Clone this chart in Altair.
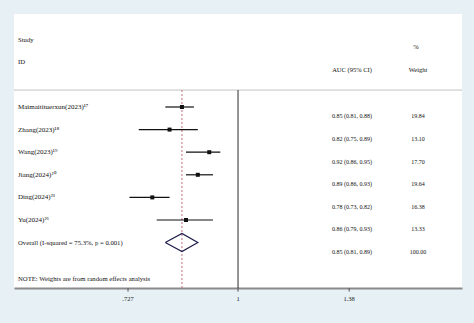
import altair as alt
import pandas as pd

# ---- data ----
studies = ["Maimaitituerxun(2023)¹⁷", "Zhang(2023)¹⁸", "Wang(2023)¹⁹",
           "Jiang(2024)²⁰", "Ding(2024)²³", "Yu(2024)²⁶"]
auc = [0.85, 0.82, 0.92, 0.89, 0.78, 0.86]
lower = [0.81, 0.75, 0.86, 0.86, 0.73, 0.79]
upper = [0.88, 0.89, 0.95, 0.93, 0.82, 0.93]
weights = [19.84, 13.10, 17.70, 19.64, 16.38, 13.33]

overall_label = "Overall  (I-squared = 75.3%, p = 0.001)"
overall_auc, overall_lo, overall_hi = 0.85, 0.81, 0.89
overall_weight = 100.00

note_text = "NOTE: Weights are from random effects analysis"
tick_values = [0.727, 1.0, 1.38]
tick_labels = [".727", "1", "1.38"]

# ---- layout helpers ----
X_DOMAIN = [0.5224, 1.914]
Y_DOMAIN = [-4.115, 8.009]
HDR_ROW = -0.75
TICK_END = 8.17
TICK_LABEL_ROW = 8.5
FONT = "Liberation Serif"
W, H = 448, 274

xs = alt.Scale(type="log", domain=X_DOMAIN, nice=False)
ys = alt.Scale(domain=Y_DOMAIN, reverse=True, nice=False, zero=False)

n = len(studies)
rows = pd.DataFrame({
    "study": studies, "auc": auc, "lo": lower, "hi": upper, "w": weights,
    "row": list(range(n)),
})
rows["ci_text"] = [f"{a:.2f} ({l:.2f}, {h:.2f})" for a, l, h in zip(auc, lower, upper)]
rows["w_text"] = [f"{w:.2f}" for w in weights]
rows["trow"] = rows["row"] + 0.42

ov_row = n
ov = pd.DataFrame({
    "label": [overall_label], "row": [ov_row], "trow": [ov_row + 0.42],
    "ci_text": [f"{overall_auc:.2f} ({overall_lo:.2f}, {overall_hi:.2f})"],
    "w_text": [f"{overall_weight:.2f}"],
})
dia = pd.DataFrame({
    "x": [overall_lo, overall_auc, overall_hi, overall_auc, overall_lo],
    "y": [ov_row, ov_row - 0.4, ov_row, ov_row + 0.4, ov_row],
    "o": [0, 1, 2, 3, 4],
})
ticks = pd.DataFrame({
    "v": tick_values, "lab": tick_labels,
    "ya": [Y_DOMAIN[1]] * len(tick_values), "yb": [TICK_END] * len(tick_values),
    "yl": [TICK_LABEL_ROW] * len(tick_values),
})

vline = alt.Chart(pd.DataFrame({"x": [1.0], "ya": [HDR_ROW], "yb": [Y_DOMAIN[1]]})).mark_rule(
    color="#2a2a2a", strokeWidth=1).encode(
    x=alt.X("x:Q", scale=xs),
    y=alt.Y("ya:Q", scale=ys), y2="yb:Q")
dline = alt.Chart(pd.DataFrame({"x": [overall_auc], "ya": [HDR_ROW], "yb": [Y_DOMAIN[1]]})).mark_rule(
    color="#c06a7a", strokeWidth=1, strokeDash=[2, 2]).encode(
    x=alt.X("x:Q", scale=xs), y=alt.Y("ya:Q", scale=ys), y2="yb:Q")
hline = alt.Chart(pd.DataFrame({"y": [HDR_ROW], "xa": [X_DOMAIN[0]], "xb": [X_DOMAIN[1]]})).mark_rule(
    color="#c4c4c4", strokeWidth=1).encode(
    y=alt.Y("y:Q", scale=ys), x=alt.X("xa:Q", scale=xs), x2="xb:Q")

ci = alt.Chart(rows).mark_rule(color="#111111", strokeWidth=1.2).encode(
    x=alt.X("lo:Q", scale=xs), x2="hi:Q", y=alt.Y("row:Q", scale=ys))
box = alt.Chart(rows).mark_square(color="#111111", opacity=1, size=16).encode(
    x=alt.X("auc:Q", scale=xs), y=alt.Y("row:Q", scale=ys))
dia_line = alt.Chart(dia).mark_line(color="#1c1c4a", strokeWidth=1.2).encode(
    x=alt.X("x:Q", scale=xs), y=alt.Y("y:Q", scale=ys), order="o:Q")

tick_marks = alt.Chart(ticks).mark_rule(color="#555555", strokeWidth=1).encode(
    x=alt.X("v:Q", scale=xs), y=alt.Y("ya:Q", scale=ys), y2="yb:Q")
tick_text = alt.Chart(ticks).mark_text(align="center", baseline="middle", font=FONT,
                                       fontSize=6.5, color="#222222").encode(
    x=alt.X("v:Q", scale=xs), y=alt.Y("yl:Q", scale=ys), text="lab:N")


def txt(data, field, row_field, px, align, size):
    return alt.Chart(data).mark_text(align=align, baseline="middle", font=FONT,
                                     fontSize=size, color="#111111").encode(
        x=alt.value(px), y=alt.Y(f"{row_field}:Q", scale=ys), text=f"{field}:N")


headers = pd.DataFrame({
    "t": ["Study", "ID", "%", "AUC (95% CI)", "Weight", note_text],
    "row": [-2.96, -1.99, -2.65, -1.64, -1.64, 7.62],
})
hdr = [
    txt(headers.iloc[[0]], "t", "row", 4, "left", 6.7),
    txt(headers.iloc[[1]], "t", "row", 4, "left", 6.7),
    txt(headers.iloc[[2]], "t", "row", 402, "center", 6.5),
    txt(headers.iloc[[3]], "t", "row", 338, "center", 6.5),
    txt(headers.iloc[[4]], "t", "row", 404, "center", 6.5),
    txt(headers.iloc[[5]], "t", "row", 4, "left", 6.7),
]

chart = alt.layer(
    hline, vline, dline, ci, box, dia_line, tick_marks, tick_text,
    txt(rows, "study", "row", 4, "left", 7),
    txt(rows, "ci_text", "trow", 338, "center", 6),
    txt(rows, "w_text", "trow", 404, "center", 6),
    txt(ov, "label", "row", 4, "left", 6.7),
    txt(ov, "ci_text", "trow", 338, "center", 6),
    txt(ov, "w_text", "trow", 404, "center", 6),
    *hdr,
).properties(
    width=W, height=H,
    padding={"left": 14, "top": 14, "right": 12, "bottom": 35},
    autosize=alt.AutoSizeParams(type="none"),
    background="#e6f0f5",
).configure_view(
    fill="white", strokeWidth=0
).configure_axisX(
    grid=False, domainColor="#8a8a8a", domainWidth=2, ticks=False,
    labels=False, titleOpacity=0,
).configure_axisY(
    grid=False, domain=False, ticks=False, labels=False, titleOpacity=0,
)

chart.save("out.html", embed_options={"renderer": "svg", "actions": False})
